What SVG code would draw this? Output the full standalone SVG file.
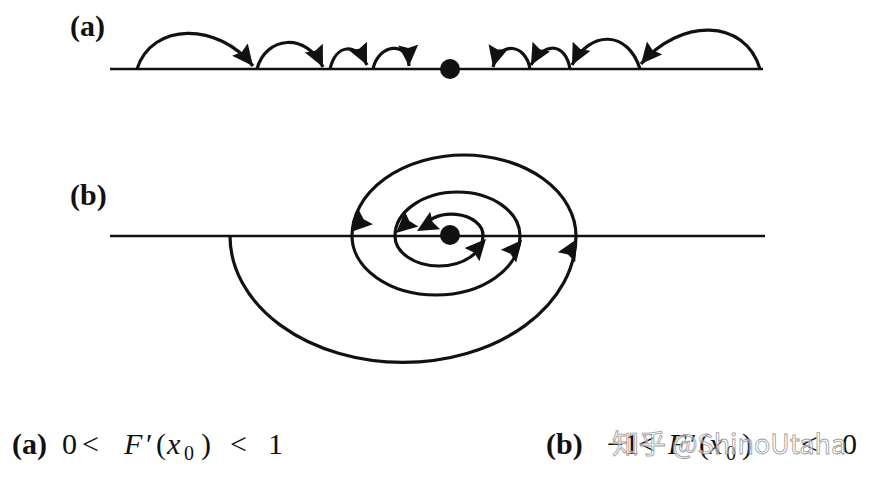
<svg xmlns="http://www.w3.org/2000/svg" xmlns:xlink="http://www.w3.org/1999/xlink" width="870" height="480" viewBox="0 0 870 480">
  <style>
    .axis { stroke: #111; stroke-width: 2.6; fill: none; }
    .arc { stroke: #111; stroke-width: 3.2; fill: none; }
    .arcA { stroke: #111; stroke-width: 3.2; fill: none; marker-end: url(#head); }
    .lbl { font-family: "Liberation Serif", serif; font-weight: bold; fill: #111; }
    .math { font-family: "Liberation Serif", serif; fill: #111; font-size: 30px; }
    .it { font-style: italic; }
    .wm { font-family: "Noto Sans CJK SC", "Noto Sans", sans-serif; font-size: 27px; fill: #ffffff; fill-opacity: 0.55; stroke: #9a9a9a; stroke-width: 0.8; }
  </style>
  <defs>
    <marker id="head" markerUnits="userSpaceOnUse" markerWidth="24" markerHeight="22" refX="21" refY="10" orient="auto">
      <path d="M0,0 L21,10 L0,20 L3,10 Z" fill="#111"/>
    </marker>
    <path id="ah" d="M0,0 L-21,-10 L-18,0 L-21,10 Z" fill="#111"/>
  </defs>
  <rect width="870" height="480" fill="#fff"/>

  <!-- Panel (a) -->
  <g id="panel-a">
    <text class="lbl" x="70" y="36" font-size="30">(a)</text>
    <line class="axis" x1="110" y1="69" x2="763" y2="69"/>
    <circle id="fixed-point-a" cx="450" cy="69" r="10" fill="#111"/>
  </g>
  <g id="connectors-a">
    <path class="arcA" d="M137,69 C152,22 218,22 253,66"/>
    <path class="arcA" d="M257,69 C266,36 306,32 323,67"/>
    <path class="arcA" d="M330,69 C336,44 356,42 367,65"/>
    <path class="arcA" d="M373,69 C378,44 408,40 409,66"/>
    <path class="arcA" d="M760,69 C745,18 680,18 641,64"/>
    <path class="arcA" d="M640,69 C628,30 590,30 572,65"/>
    <path class="arcA" d="M570,69 C566,44 545,40 531,65"/>
    <path class="arcA" d="M530,69 C526,44 500,40 493,67"/>
  </g>

  <!-- Panel (b) -->
  <g id="panel-b">
    <text class="lbl" x="70" y="205" font-size="30">(b)</text>
    <line class="axis" x1="110" y1="236" x2="765" y2="236"/>
    <circle id="fixed-point-b" cx="450" cy="235" r="10" fill="#111"/>
  </g>
  <g id="connectors-b">
    <path class="arc" d="M230,236 A172.5,126 0 0 0 576,236"/>
    <path class="arc" d="M576,236 A112,81 0 0 0 352,236"/>
    <path class="arc" d="M352,236 A84,59 0 0 0 520,236"/>
    <path class="arc" d="M520,236 A62.5,44 0 0 0 395,236"/>
    <path class="arc" d="M395,236 A44,30 0 0 0 483,236"/>
    <path class="arc" d="M483,236 A31.5,21 0 0 0 421,230"/>
    <use xlink:href="#ah" transform="translate(577,239) rotate(-60)"/>
    <use xlink:href="#ah" transform="translate(351,232) rotate(135)"/>
    <use xlink:href="#ah" transform="translate(522,240) rotate(-50)"/>
    <use xlink:href="#ah" transform="translate(396,233) rotate(138)"/>
    <use xlink:href="#ah" transform="translate(486,239) rotate(-48)"/>
    <use xlink:href="#ah" transform="translate(417,231) rotate(150)"/>
  </g>

  <!-- Captions -->
  <g id="caption-a">
    <text class="lbl" x="12" y="454" font-size="30">(a)</text>
    <text class="math" y="454"><tspan x="62">0</tspan><tspan x="82">&lt;</tspan><tspan x="124" class="it">F</tspan><tspan x="146">′</tspan><tspan x="156">(</tspan><tspan x="167" class="it">x</tspan><tspan x="184" y="460" font-size="20">0</tspan><tspan x="201" y="454">)</tspan><tspan x="230">&lt;</tspan><tspan x="268">1</tspan></text>
  </g>
  <g id="caption-b">
    <text class="lbl" x="546" y="454" font-size="30">(b)</text>
    <text class="math" y="454"><tspan x="607">−1</tspan><tspan x="638">&lt;</tspan><tspan x="668" class="it">F</tspan><tspan x="690">′</tspan><tspan x="699">(</tspan><tspan x="709" class="it">x</tspan><tspan x="726" y="460" font-size="20">0</tspan><tspan x="742" y="454">)</tspan><tspan x="801">&lt;</tspan><tspan x="842">0</tspan></text>
    <text class="wm" x="612" y="454">知乎 @ShinoUtaha</text>
  </g>
</svg>
